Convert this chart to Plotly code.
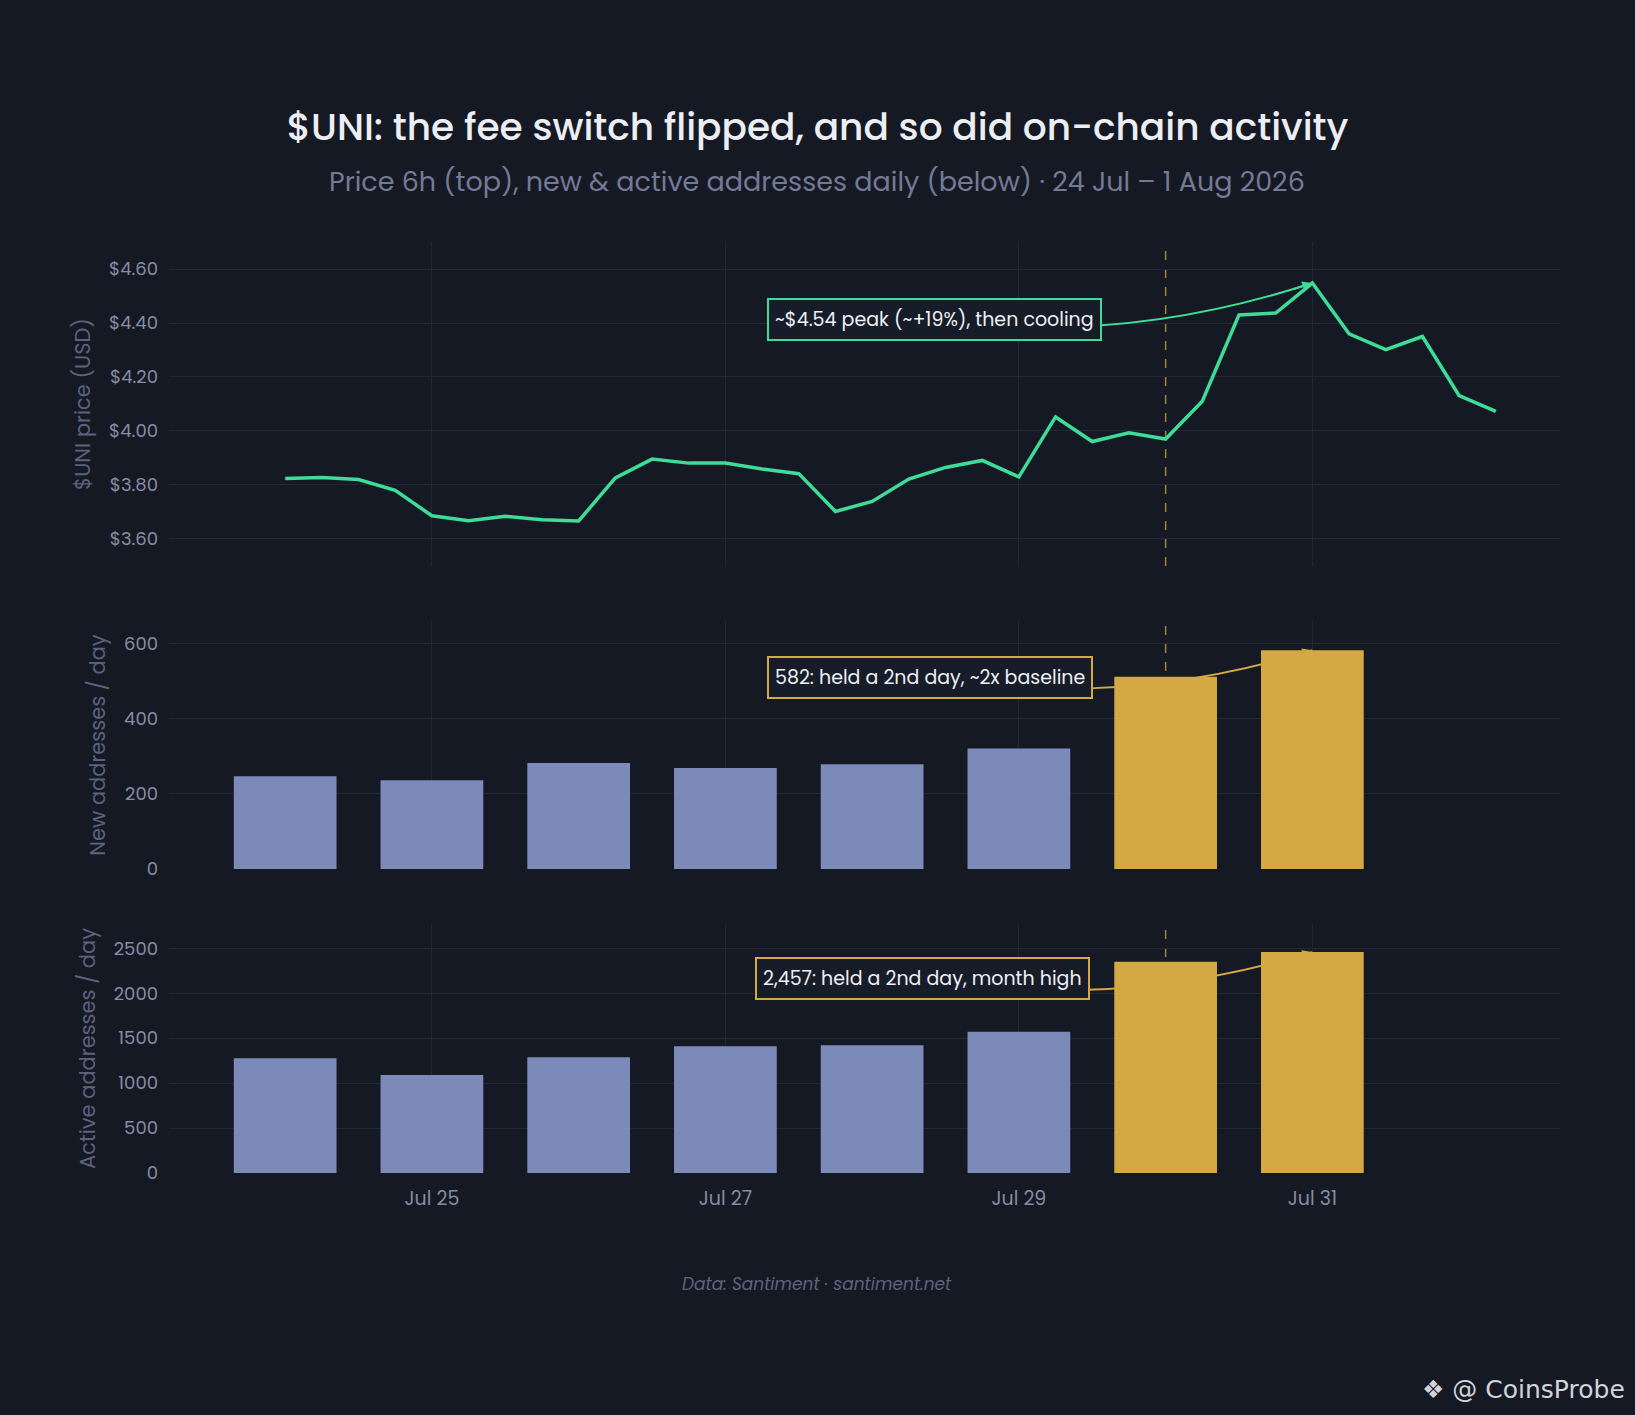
import numpy as np
import pandas as pd
import plotly.graph_objects as go

# --- data ---------------------------------------------------------------
price_start = "2026-07-24 00:00"
price_usd = [3.824, 3.828, 3.820, 3.780, 3.686, 3.668, 3.684, 3.671, 3.667,
             3.826, 3.896, 3.881, 3.881, 3.859, 3.842, 3.702, 3.739, 3.822,
             3.865, 3.891, 3.830, 4.052, 3.961, 3.993, 3.970, 4.110, 4.430,
             4.437, 4.548, 4.360, 4.301, 4.350, 4.131, 4.073]

days = ["2026-07-24", "2026-07-25", "2026-07-26", "2026-07-27",
        "2026-07-28", "2026-07-29", "2026-07-30", "2026-07-31"]
new_addresses = [247, 236, 282, 269, 279, 321, 512, 582]
active_addresses = [1275, 1089, 1288, 1411, 1420, 1570, 2351, 2457]

switch_day = "2026-07-30"

price_note = "~$4.54 peak (~+19%), then cooling"
new_note = "582: held a 2nd day, ~2x baseline"
active_note = "2,457: held a 2nd day, month high"

# --- styling ------------------------------------------------------------
BG = "#151923"
GRID = "#222735"
TICK = "#868ca3"
AXTITLE = "#5b627e"
GREEN = "#3ddc97"
BLUE = "#7b8ab8"
GOLD = "#d4a843"
FONT = "Poppins, Inter, sans-serif"

W, H = 1635, 1415
M = dict(l=169, r=75, t=242, b=242)
PW, PH = W - M["l"] - M["r"], H - M["t"] - M["b"]

price_time = pd.date_range(price_start, periods=len(price_usd), freq="6h")
day_dt = pd.to_datetime(days)
bar_colors = [GOLD if d >= pd.Timestamp(switch_day) else BLUE for d in day_dt]
bar_width = 0.7 * 86400000

xrange = ["2026-07-23 05:00", "2026-08-01 16:30"]
axes = {
    "y": dict(domain=[0.652, 1.0], range=[3.5, 4.7]),
    "y2": dict(domain=[0.3265, 0.5929], range=[0, 660]),
    "y3": dict(domain=[0.0, 0.2675], range=[0, 2770]),
}

fig = go.Figure()
fig.add_trace(go.Scatter(x=price_time, y=price_usd, mode="lines",
                         line=dict(color=GREEN, width=3.5), xaxis="x", yaxis="y"))
fig.add_trace(go.Bar(x=day_dt, y=new_addresses, marker=dict(color=bar_colors, line_width=0),
                     width=bar_width, xaxis="x2", yaxis="y2"))
fig.add_trace(go.Bar(x=day_dt, y=active_addresses, marker=dict(color=bar_colors, line_width=0),
                     width=bar_width, xaxis="x3", yaxis="y3"))

xcommon = dict(type="date", range=xrange, showgrid=True, gridcolor=GRID,
               gridwidth=1, zeroline=False, showline=False, dtick=2 * 86400000,
               tick0="2026-07-25", tickformat="%b %d", ticklabelstandoff=12,
               tickfont=dict(size=19, color=TICK))
ycommon = dict(showgrid=True, gridcolor=GRID, zeroline=False, showline=False,
               tickfont=dict(size=18, color=TICK), ticks="", ticklabelstandoff=10)
ytitle_font = dict(size=21, color=AXTITLE)

fig.update_layout(
    width=W, height=H,
    paper_bgcolor=BG, plot_bgcolor=BG,
    font=dict(family=FONT, color=TICK),
    showlegend=False,
    margin=M,
    xaxis=dict(xcommon, anchor="y", showticklabels=False),
    xaxis2=dict(xcommon, anchor="y2", matches="x", showticklabels=False),
    xaxis3=dict(xcommon, anchor="y3", matches="x"),
    yaxis=dict(ycommon, **axes["y"], dtick=0.2, tickformat="$.2f",
               title=dict(text="$UNI price (USD)", font=ytitle_font, standoff=12)),
    yaxis2=dict(ycommon, **axes["y2"], dtick=200,
                title=dict(text="New addresses / day", font=ytitle_font, standoff=12)),
    yaxis3=dict(ycommon, **axes["y3"], dtick=500,
                title=dict(text="Active addresses / day", font=ytitle_font, standoff=12)),
    title=dict(text="$UNI: the fee switch flipped, and so did on-chain activity",
               x=0.5, xanchor="center", y=1 - 127 / H, yanchor="middle",
               font=dict(size=37.5, color="#eceef3", family=FONT, weight=500)),
)

# switch-day marker in every panel
for xref, yref in [("x", "y domain"), ("x2", "y2 domain"), ("x3", "y3 domain")]:
    fig.add_shape(type="line", xref=xref, yref=yref, x0=switch_day, x1=switch_day,
                  y0=0, y1=1, layer="below",
                  line=dict(color="rgba(212,168,67,0.75)", width=1.5, dash="dash"))


def to_paper(t, v, yax):
    t0, t1 = pd.Timestamp(xrange[0]), pd.Timestamp(xrange[1])
    px = (pd.Timestamp(t) - t0) / (t1 - t0)
    d0, d1 = axes[yax]["domain"]
    r0, r1 = axes[yax]["range"]
    return px, d0 + (v - r0) / (r1 - r0) * (d1 - d0)


def callout(t, v, yax, text, color, ax, ay, bend=0.12):
    # text box, offset in pixels from the point it describes
    fig.add_annotation(x=t, y=v, xref=yax.replace("y", "x"), yref=yax,
                       text=text, showarrow=False, xshift=ax, yshift=-ay,
                       font=dict(size=19, color="#eef0f5"), bgcolor="#161c28",
                       bordercolor=color, borderwidth=2, borderpad=6)
    # curved connector from the box to the point
    ex, ey = to_paper(t, v, yax)
    sx, sy = ex + ax / PW, ey - ay / PH
    dx, dy = -ax, ay  # screen pixels, y down
    mx, my = ax / 2, ay / 2  # midpoint offset from end, screen px
    cxs = mx + bend * (-dy)
    cys = my + bend * dx
    cx, cy = ex + cxs / PW, ey - cys / PH
    fig.add_shape(type="path", xref="paper", yref="paper", layer="above",
                  path=f"M {sx},{sy} Q {cx},{cy} {ex},{ey}",
                  line=dict(color=color, width=2))
    # arrow head along the end tangent
    k = 22 / np.hypot(cxs, cys)
    fig.add_annotation(x=t, y=v, xref=yax.replace("y", "x"), yref=yax, text="",
                       showarrow=True, ax=cxs * k, ay=cys * k, arrowhead=2,
                       arrowsize=1, arrowwidth=2, arrowcolor=color, standoff=0)


i_peak = int(np.argmax(price_usd))
callout(price_time[i_peak], price_usd[i_peak], "y", price_note, GREEN, -378, 36)
callout(day_dt[-1], new_addresses[-1], "y2", new_note, GOLD, -382, 27)
callout(day_dt[-1], active_addresses[-1], "y3", active_note, GOLD, -390, 26)

# subtitle, source and watermark
fig.add_annotation(text="Price 6h (top), new & active addresses daily (below) · 24 Jul – 1 Aug 2026",
                   xref="paper", yref="paper", x=0.466, y=(1173 - 182) / PH,
                   yanchor="middle", showarrow=False, font=dict(size=27, color="#737a96"))
fig.add_annotation(text="<i>Data: Santiment · santiment.net</i>",
                   xref="paper", yref="paper", x=0.466, y=(1173 - 1284) / PH,
                   yanchor="middle", showarrow=False, font=dict(size=17, color="#5d647e"))
fig.add_annotation(text="❖ @ CoinsProbe", xref="paper", yref="paper",
                   x=(1627 - 169) / PW, y=(1173 - 1389) / PH, xanchor="right",
                   yanchor="middle", showarrow=False,
                   font=dict(size=25, color="#d2d4da", family="DejaVu Sans"))

fig.write_html("out.html", config={"displayModeBar": False},
               post_script="document.body.style.margin='0';"
                           "document.body.style.background='#151923';")
